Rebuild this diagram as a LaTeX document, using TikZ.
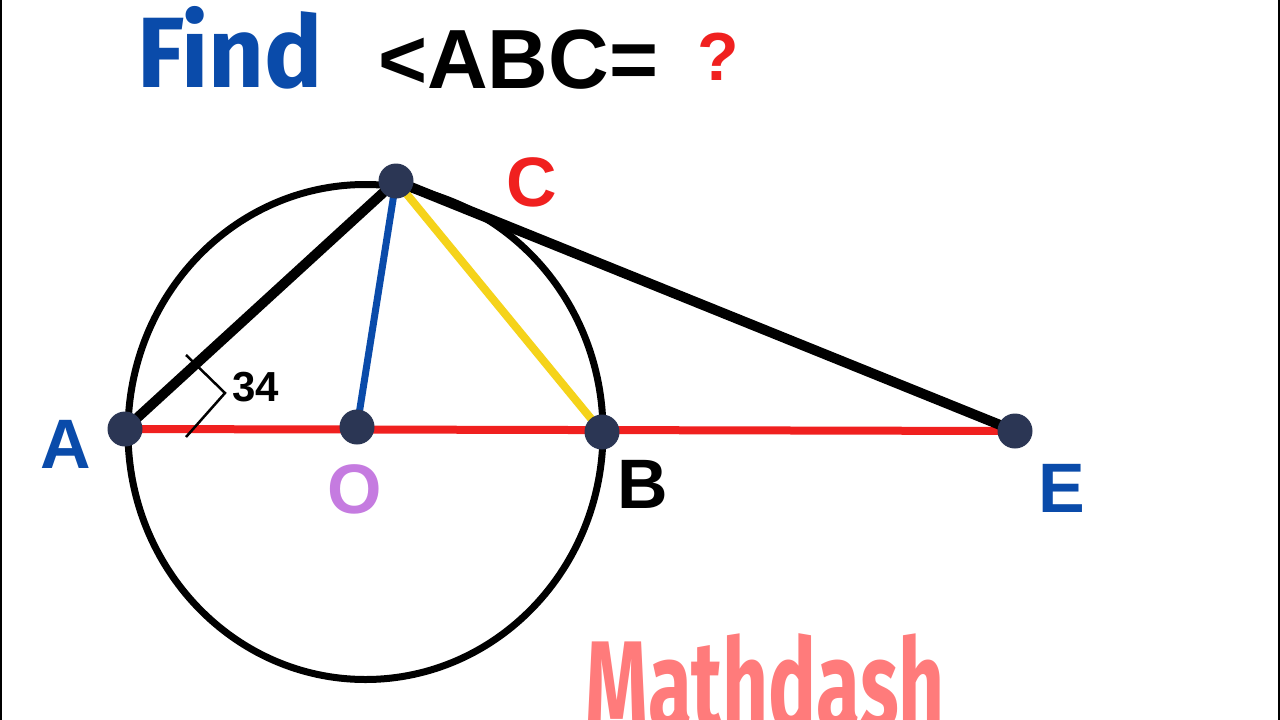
\documentclass[tikz,border=0pt]{standalone}
\usepackage{fontspec}
\setmainfont{Fira Sans}
\newfontfamily\arialf{Liberation Sans}
\usepackage{graphicx}
\definecolor{tblue}{HTML}{0A4BAA}
\definecolor{navy}{HTML}{2B3654}
\definecolor{tyellow}{HTML}{F5D31A}
\definecolor{tred}{HTML}{F0201F}
\definecolor{tviolet}{HTML}{C57BE0}
\definecolor{salmon}{HTML}{FF7B7B}
\tikzset{
  dot/.style={circle,fill=navy,inner sep=0pt,minimum size=35pt},
  lbl/.style={anchor=base west,inner sep=0pt,font=\arialf\fontsize{70}{70}\selectfont\bfseries},
  blk/.style={line width=10pt,black},
}
\begin{document}
\begin{tikzpicture}[x=1pt,y=-1pt]
\useasboundingbox (0,0) rectangle (1280,720);
\clip (0,0) rectangle (1280,720);
\fill[white] (0,0) rectangle (1280,720);
\draw[line width=2pt] (0.5,0) -- (0.5,720);
\draw[line width=2pt] (1279,0) -- (1279,720);
% points
\coordinate (A) at (125,429);
\coordinate (O) at (357,427);
\coordinate (B) at (602,432);
\coordinate (E) at (1015,431);
\coordinate (C) at (396,181);
\coordinate (K) at (365.5,432);
% circle
\draw[line width=7pt] (K) ellipse [x radius=237.5pt, y radius=247.5pt];
% segments
\draw[tred,line width=8pt] (A) -- (E);
\draw[blk] (A) -- (C);
\draw[blk] (C) -- (E);
\draw[tblue,line width=7pt] (O) -- (C);
\draw[tyellow,line width=8pt] (C) -- (B);
% angle mark
\coordinate (m1) at (186,355);
\coordinate (m2) at (225,393);
\coordinate (m3) at (186,437);
\draw[line width=2.5pt] (m1) -- (m2) -- (m3);
% dots
\node[dot] (dA) at (A) {};
\node[dot] (dO) at (O) {};
\node[dot] (dB) at (B) {};
\node[dot] (dE) at (E) {};
\node[dot] (dC) at (C) {};
% labels
\node[lbl,text=tblue] (lA) at (40,468) {A};
\node[lbl,text=tviolet] (lO) at (327,513) {O};
\node[lbl,text=black] (lB) at (617,508) {B};
\node[lbl,text=tblue] (lE) at (1038,512) {E};
\node[lbl,text=tred] (lC) at (506,206) {C};
\node[anchor=base west,inner sep=0pt,font=\arialf\fontsize{42}{42}\selectfont\bfseries] (l34) at (232,401) {34};
% title
\node[anchor=base west,inner sep=0pt,text=tblue,font=\fontsize{100}{100}\selectfont\bfseries] (find) at (137,87) {\scalebox{0.97}[1]{Find}};
\node[anchor=base west,inner sep=0pt,font=\arialf\fontsize{84}{84}\selectfont\bfseries] (abc) at (378,88) {<ABC=};
\node[anchor=base west,inner sep=0pt,text=tred,font=\arialf\fontsize{68}{68}\selectfont\bfseries] (q) at (697,80) {?};
\node[anchor=base west,inner sep=0pt,text=salmon,font=\fontsize{125}{125}\selectfont\bfseries] (md) at (585,728) {\scalebox{0.64}[1]{Mathdash}};
\end{tikzpicture}
\end{document}
